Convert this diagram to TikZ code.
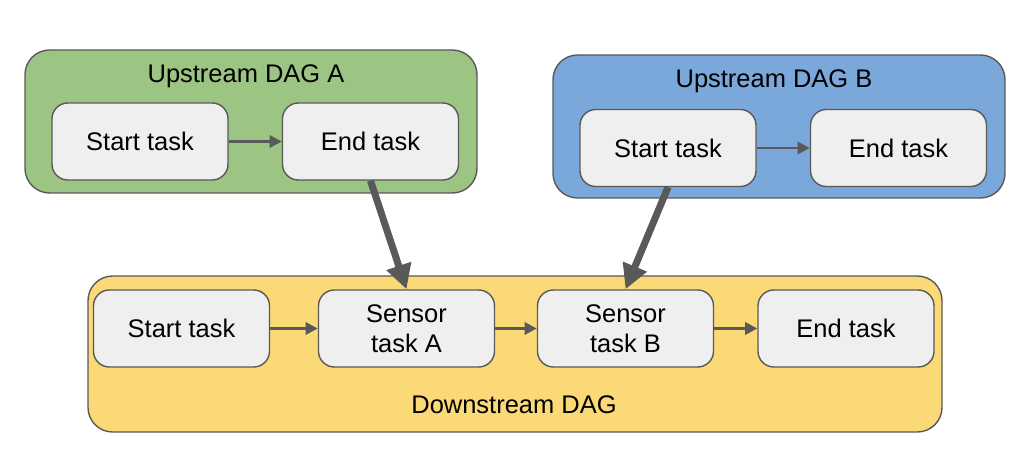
\documentclass[tikz,border=0pt]{standalone}
\usepackage{fontspec}
\setmainfont{Liberation Sans}
\usetikzlibrary{arrows.meta}
\definecolor{gfill}{HTML}{9CC483}
\definecolor{bfill}{HTML}{7AA8DB}
\definecolor{yfill}{HTML}{FCD977}
\definecolor{tfill}{HTML}{EFEFEF}
\definecolor{edge}{HTML}{595959}
\begin{document}
\begin{tikzpicture}[x=0.02cm,y=-0.02cm,
  cont/.style={draw=edge,line width=0.8pt,rounded corners=14pt},
  task/.style={draw=edge,line width=0.8pt,fill=tfill,rounded corners=9pt,minimum width=176*0.02cm,minimum height=77*0.02cm,align=center,font=\fontsize{14.5}{17}\selectfont,inner sep=0pt},
  ttl/.style={font=\fontsize{14.5}{17}\selectfont},
  sarr/.style={-{Triangle[length=7pt,width=7pt]},draw=edge,line width=1.6pt},
  barr/.style={-{Triangle[length=14pt,width=14pt]},draw=edge,line width=4pt}]
\useasboundingbox (0,0) rectangle (1024,452);
\draw[cont,fill=gfill] (25,50) rectangle (477,193);
\draw[cont,fill=bfill] (553,55) rectangle (1005,198);
\draw[cont,fill=yfill] (88,276) rectangle (942,432);
\node[ttl] (tA) at (246,76) {Upstream DAG A};
\node[ttl] (tB) at (774,81) {Upstream DAG B};
\node[ttl] (tD) at (514,405) {Downstream DAG};
\node[task] (as) at (140,141.5) {Start task};
\node[task] (ae) at (370.5,141.5) {End task};
\node[task] (bs) at (668,148) {Start task};
\node[task] (be) at (898.5,148) {End task};
\node[task] (ds) at (181.5,328.5) {Start task};
\node[task] (sa) at (406.5,328.5) {Sensor\\task A};
\node[task] (sb) at (625.5,328.5) {Sensor\\task B};
\node[task] (de) at (846,328.5) {End task};
\draw[sarr] (as) -- (ae);
\draw[sarr] (bs) -- (be);
\draw[sarr] (ds) -- (sa);
\draw[sarr] (sa) -- (sb);
\draw[sarr] (sb) -- (de);
\draw[barr] (ae.south) -- (sa.north);
\draw[barr] (bs.south) -- (sb.north);
\end{tikzpicture}
\end{document}
